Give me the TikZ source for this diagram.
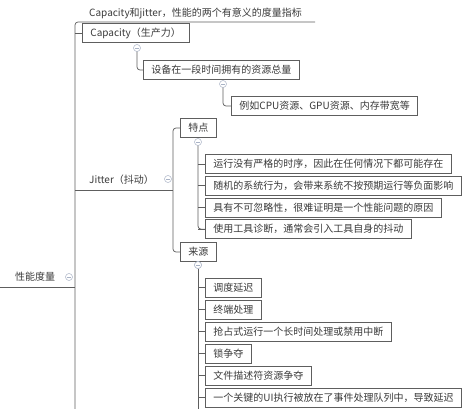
\documentclass[tikz,border=0pt]{standalone}
\usepackage{fontspec}
\setmainfont{Noto Sans CJK SC}
\usepackage{tikz}
\usetikzlibrary{positioning}

\definecolor{linec}{HTML}{5E5E5E}
\definecolor{textc}{HTML}{3A3A3A}
\definecolor{foldc}{HTML}{A9B3C6}

\begin{document}
\begin{tikzpicture}[
    x=1pt, y=-1pt,
    link/.style={draw=linec, line width=0.7pt, rounded corners=3pt},
    topic/.style={anchor=west, inner sep=0pt, text=textc, font=\fontsize{10}{12}\selectfont},
    mybox/.style={draw=linec, line width=0.8pt, fill=white, anchor=west, text=textc,
        font=\fontsize{10}{12}\selectfont, inner xsep=8pt, inner ysep=0pt, minimum height=19pt},
    fold/.style={circle, draw=foldc, fill=white, line width=0.5pt, minimum size=7pt, inner sep=0pt,
        path picture={\draw[foldc, line width=0.6pt]
            ([xshift=-2pt]path picture bounding box.center) -- ([xshift=2pt]path picture bounding box.center);}}
]
\useasboundingbox (0,0) rectangle (474,409);

% trunk and root
\node[topic] (title) at (89,13) {Capacity和jitter，性能的两个有意义的度量指标};
\coordinate (titleR) at (315,22);
\coordinate (trunkT) at (75,22);
\coordinate (trunkB) at (75,412);
\draw[link] (titleR) -- (trunkT) -- (trunkB);

\node[topic] (root) at (15,277) {性能度量};
\coordinate (rootL) at (0,287);
\coordinate (rootR) at (75,287);
\draw[link] (rootL) -- (rootR);
\node[fold] (rootfold) at (69,277) {};

% Capacity
\node[mybox] (cap) at (82,33) {Capacity（生产力）};
\draw[link] (cap.west) -- (cap.west -| trunkT);
\node[fold] (capfold) at (137,48) {};
\node[mybox] (res) at (143,70) {设备在一段时间拥有的资源总量};
\draw[link] (capfold) |- (res.west);
\node[fold] (resfold) at (223,84) {};
\node[mybox] (eg) at (231,106) {例如CPU资源、GPU资源、内存带宽等};
\draw[link] (resfold) |- (eg.west);

% Jitter
\node[topic] (jit) at (89,180) {Jitter（抖动）};
\coordinate (jitL) at (75,190);
\coordinate (jitR) at (173,190);
\draw[link] (jitL) -- (jitR);
\node[fold] (jitfold) at (168,179) {};

\node[mybox] (feat) at (180,128) {特点};
\node[mybox] (src) at (180,252) {来源};
\draw[link] (feat.west) -| (jitR) |- (src.west);

% 特点
\node[fold] (featfold) at (198,142) {};
\foreach \txt [count=\i] in {运行没有严格的时序，因此在任何情况下都可能存在,
    随机的系统行为，会带来系统不按预期运行等负面影响,
    具有不可忽略性，很难证明是一个性能问题的原因,
    使用工具诊断，通常会引入工具自身的抖动} {
    \node[mybox] (f\i) at (205,{142.3+21.7*\i}) {\txt};
    \draw[link] (f\i.west) -- (f\i.west -| featfold);
}
\draw[link] (featfold) |- (f4.west);

% 来源
\node[fold] (srcfold) at (198,265) {};
\draw[link] (srcfold) -- (srcfold |- trunkB);
\foreach \txt [count=\i] in {调度延迟, 终端处理, 抢占式运行一个长时间处理或禁用中断,
    锁争夺, 文件描述符资源争夺,
    一个关键的UI执行被放在了事件处理队列中，导致延迟} {
    \node[mybox] (s\i) at (205,{265.5+22*\i}) {\txt};
    \draw[link] (s\i.west) -- (s\i.west -| srcfold);
}
\node[fold] at (srcfold) {};
\end{tikzpicture}
\end{document}
